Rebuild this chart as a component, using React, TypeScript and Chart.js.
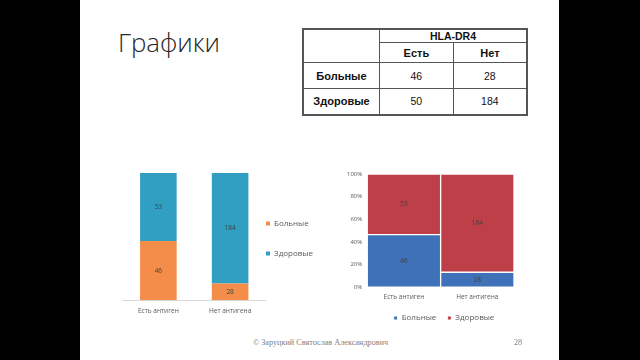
import React, { useEffect, useRef } from "react";
import { Chart, registerables } from "chart.js";

Chart.register(...registerables);

// ---- data ----
const categories = ["Есть антиген", "Нет антигена"];
const seriesNames = ["Больные", "Здоровые"];
const sickValues = [46, 28];
const healthyValues = [53, 184];
const percentTicks = [0, 20, 40, 60, 80, 100];

const tableHeader = "HLA-DR4";
const tableColumns = ["Есть", "Нет"];
const tableRowNames = ["Больные", "Здоровые"];
const tableSick = [46, 28];
const tableHealthy = [50, 184];

const totals = categories.map((_, i) => sickValues[i] + healthyValues[i]);
const sickShare = sickValues.map((v, i) => (v / totals[i]) * 100);
const healthyShare = healthyValues.map((v, i) => (v / totals[i]) * 100);

const FONT = "'Open Sans', 'DejaVu Sans', sans-serif";

// draws raw counts in the middle of each bar segment
const valueLabels = {
  id: "valueLabels",
  afterDatasetsDraw(chart: any, _args: any, opts: any) {
    const ctx = chart.ctx;
    ctx.save();
    ctx.font = `${opts.size || 7}px ${FONT}`;
    ctx.fillStyle = opts.color || "#404040";
    ctx.textAlign = "center";
    ctx.textBaseline = "middle";
    chart.data.datasets.forEach((ds: any, di: number) => {
      const meta = chart.getDatasetMeta(di);
      meta.data.forEach((el: any, i: number) => {
        const p = el.getCenterPoint();
        ctx.fillText(String(ds.counts[i]), p.x, p.y);
      });
    });
    ctx.restore();
  },
};

// nudges the legend box after layout
const legendShift = {
  id: "legendShift",
  afterLayout(chart: any, _args: any, opts: any) {
    const lg = chart.legend;
    if (!lg || !opts) return;
    const dx = opts.dx || 0;
    const dy = opts.dy || 0;
    lg.left += dx;
    lg.right += dx;
    lg.top += dy;
    lg.bottom += dy;
  },
};

function StackedChart() {
  const ref = useRef<HTMLCanvasElement>(null);
  useEffect(() => {
    const chart = new Chart(ref.current!, {
      type: "bar",
      data: {
        labels: categories,
        datasets: [
          {
            label: seriesNames[0],
            data: sickShare,
            counts: sickValues,
            backgroundColor: "#F58D4A",
            categoryPercentage: 1,
            barPercentage: 0.51,
          } as any,
          {
            label: seriesNames[1],
            data: healthyShare,
            counts: healthyValues,
            backgroundColor: "#319FC2",
            categoryPercentage: 1,
            barPercentage: 0.51,
          } as any,
        ],
      },
      options: {
        animation: false,
        responsive: false,
        maintainAspectRatio: false,
        layout: { padding: { left: 22.5, top: 23, bottom: 3, right: 5 } },
        scales: {
          x: {
            stacked: true,
            grid: { display: false, drawTicks: false },
            border: { display: true, color: "#d9d9d9", width: 1 },
            ticks: { color: "#595959", font: { family: FONT, size: 6.5 }, padding: 7 },
          },
          y: { stacked: true, min: 0, max: 100, display: false },
        },
        plugins: {
          legend: {
            position: "right",
            labels: {
              boxWidth: 4,
              boxHeight: 4,
              padding: 22,
              color: "#595959",
              font: { family: FONT, size: 8 },
            },
          },
          tooltip: { enabled: false },
          valueLabels: { size: 6.5, color: "#404040" },
          legendShift: { dx: -22, dy: -9 },
        } as any,
      },
      plugins: [valueLabels, legendShift],
    });
    return () => chart.destroy();
  }, []);
  return (
    <canvas
      ref={ref}
      width={250}
      height={175}
      style={{ position: "absolute", left: 100, top: 150, width: 250, height: 175 }}
    />
  );
}

function MosaicChart() {
  const ref = useRef<HTMLCanvasElement>(null);
  useEffect(() => {
    const chart = new Chart(ref.current!, {
      type: "bar",
      data: {
        labels: categories,
        datasets: [
          {
            label: seriesNames[0],
            data: sickShare,
            counts: sickValues,
            backgroundColor: "#3E71B8",
            borderColor: "#ffffff",
            borderWidth: 1,
            borderSkipped: false,
            categoryPercentage: 1,
            barPercentage: 1,
          } as any,
          {
            label: seriesNames[1],
            data: healthyShare,
            counts: healthyValues,
            backgroundColor: "#BF3F48",
            borderColor: "#ffffff",
            borderWidth: 1,
            borderSkipped: false,
            categoryPercentage: 1,
            barPercentage: 1,
          } as any,
        ],
      },
      options: {
        animation: false,
        responsive: false,
        maintainAspectRatio: false,
        layout: { padding: { left: 22, top: 14, bottom: 0, right: 26 } },
        scales: {
          x: {
            stacked: true,
            grid: { display: false, drawTicks: false },
            border: { display: false },
            ticks: { color: "#595959", font: { family: FONT, size: 6.5 }, padding: 6 },
          },
          y: {
            stacked: true,
            min: 0,
            max: 100,
            grid: { display: false, drawTicks: false },
            border: { display: false },
            afterBuildTicks: (s: any) => {
              s.ticks = percentTicks.map((v) => ({ value: v }));
            },
            ticks: {
              color: "#595959",
              font: { family: FONT, size: 6 },
              padding: 5,
              callback: (v: any) => `${v}%`,
            },
          },
        },
        plugins: {
          legend: {
            position: "bottom",
            labels: {
              boxWidth: 4,
              boxHeight: 4,
              padding: 11,
              color: "#595959",
              font: { family: FONT, size: 8 },
            },
          },
          tooltip: { enabled: false },
          valueLabels: { size: 6.5, color: "#404040" },
          legendShift: { dx: 16, dy: -4 },
        } as any,
      },
      plugins: [valueLabels, legendShift],
    });
    return () => chart.destroy();
  }, []);
  return (
    <canvas
      ref={ref}
      width={220}
      height={176}
      style={{ position: "absolute", left: 320, top: 160, width: 220, height: 176 }}
    />
  );
}

const cell: React.CSSProperties = {
  border: "1px solid #555",
  padding: 0,
  textAlign: "center",
  verticalAlign: "middle",
  color: "#111",
};

export default function App() {
  return (
    <div
      style={{
        position: "fixed",
        left: 0,
        top: 0,
        width: 640,
        height: 360,
        background: "#fff",
        overflow: "hidden",
      }}
    >
      <div style={{ position: "absolute", left: 0, top: 0, width: 80, height: 360, background: "#000" }} />
      <div style={{ position: "absolute", left: 559, top: 0, width: 81, height: 360, background: "#000" }} />
      <div
        style={{
          position: "absolute",
          left: 118,
          top: 23.5,
          font: `300 25.8px ${FONT}`,
          color: "#262626",
          whiteSpace: "nowrap",
        }}
      >
        Графики
      </div>
      <table
        style={{
          position: "absolute",
          left: 302,
          top: 28,
          width: 226,
          height: 87,
          borderCollapse: "collapse",
          border: "2px solid #555",
          fontFamily: "'Liberation Sans', Arial, sans-serif",
          tableLayout: "fixed",
        }}
      >
        <tbody>
          <tr style={{ height: 13 }}>
            <td style={{ ...cell, width: 75 }} rowSpan={2}></td>
            <td style={{ ...cell, fontWeight: 700, fontSize: 10.5 }} colSpan={2}>
              {tableHeader}
            </td>
          </tr>
          <tr style={{ height: 20 }}>
            {tableColumns.map((c) => (
              <td key={c} style={{ ...cell, width: 75, fontWeight: 700, fontSize: 11 }}>
                {c}
              </td>
            ))}
          </tr>
          {[tableSick, tableHealthy].map((row, ri) => (
            <tr key={ri} style={{ height: 26 }}>
              <td style={{ ...cell, fontWeight: 700, fontSize: 11 }}>{tableRowNames[ri]}</td>
              {row.map((v, ci) => (
                <td key={ci} style={{ ...cell, fontSize: 10.5 }}>
                  {v}
                </td>
              ))}
            </tr>
          ))}
        </tbody>
      </table>
      <StackedChart />
      <MosaicChart />
      <div
        style={{
          position: "absolute",
          left: 253,
          top: 337.5,
          font: "8.2px 'Liberation Serif', serif",
          color: "#808080",
          whiteSpace: "nowrap",
        }}
      >
        © Заруцкий Святослав Александрович
      </div>
      <div
        style={{
          position: "absolute",
          left: 514,
          top: 337.5,
          font: "8.2px 'Liberation Serif', serif",
          color: "#808080",
        }}
      >
        28
      </div>
    </div>
  );
}
